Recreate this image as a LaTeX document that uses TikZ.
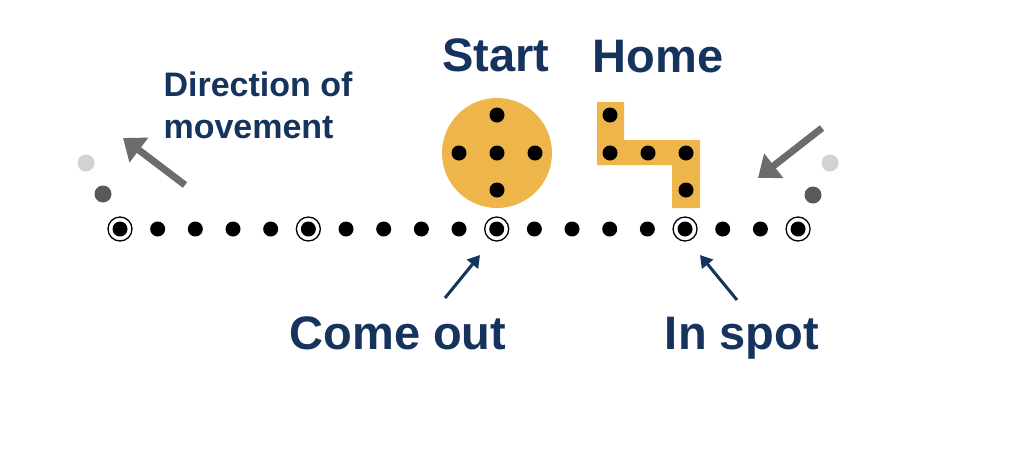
\documentclass[tikz,border=0pt]{standalone}
\usepackage{fontspec}
\setmainfont{Liberation Sans}
\usetikzlibrary{arrows.meta}
\definecolor{navy}{HTML}{15335C}
\definecolor{gold}{HTML}{EDB54A}
\begin{document}
\begin{tikzpicture}[x=1pt,y=-1pt,
  dot/.style={circle,fill=black,inner sep=0pt,minimum size=15pt},
  ring/.style={circle,draw=black,line width=1.3pt,fill=white,inner sep=0pt,minimum size=24pt},
  lbl/.style={text=navy,font=\bfseries},
  grayarrow/.style={draw=gray!85!black,line width=7pt,-{Triangle[length=20pt,width=30pt]}},
  navyarrow/.style={draw=navy,line width=3pt,-{Triangle[length=12pt,width=14pt]}}]
\useasboundingbox (0,0) rectangle (1024,448);
% start
\fill[gold] (497,153) circle (55);
% home
\fill[gold] (597,102) -- (624,102) -- (624,140) -- (700,140) -- (700,208) -- (672,208) -- (672,165) -- (597,165) -- cycle;
\foreach \p in {(497,115),(459,153),(497,153),(535,153),(497,190),(610,115),(610,153),(648,153),(686,153),(686,190)}
  \node[dot] at \p {};
% track
\foreach \i in {0,...,18}{
  \pgfmathsetmacro\xx{120+\i*37.67}
  \ifnum\i=0 \node[ring] at (\xx,229) {};\fi
  \ifnum\i=5 \node[ring] at (\xx,229) {};\fi
  \ifnum\i=10 \node[ring] at (\xx,229) {};\fi
  \ifnum\i=15 \node[ring] at (\xx,229) {};\fi
  \ifnum\i=18 \node[ring] at (\xx,229) {};\fi
  \node[dot] (t\i) at (\xx,229) {};
}
% grey dots
\fill[gray!35] (86,163) circle (8.5);
\fill[gray!70!black] (103,194) circle (8.5);
\fill[gray!35] (830,163) circle (8.5);
\fill[gray!70!black] (813,195) circle (8.5);
% labels
\node[lbl,font=\bfseries\fontsize{47}{50}\selectfont] (start) at (496,55) {Start};
\node[lbl,font=\bfseries\fontsize{47}{50}\selectfont] (home) at (658,57) {Home};
\node[lbl,font=\bfseries\fontsize{34}{42}\selectfont,align=left,anchor=north west] (dir) at (160,68) {Direction of\\movement};
\node[lbl,font=\bfseries\fontsize{47}{50}\selectfont] (come) at (398,333) {Come out};
\node[lbl,font=\bfseries\fontsize{47}{50}\selectfont] (inspot) at (742,338) {In spot};
% arrows
\coordinate (la) at (185,185); \coordinate (lb) at (123,138);
\coordinate (ra) at (822,128); \coordinate (rb) at (758,178);
\draw[grayarrow] (la) -- (lb);
\draw[grayarrow] (ra) -- (rb);
\coordinate (ca) at (445,298); \coordinate (cb) at (480,255);
\coordinate (ia) at (737,300); \coordinate (ib) at (700,255);
\draw[navyarrow] (ca) -- (cb);
\draw[navyarrow] (ia) -- (ib);
\end{tikzpicture}
\end{document}
